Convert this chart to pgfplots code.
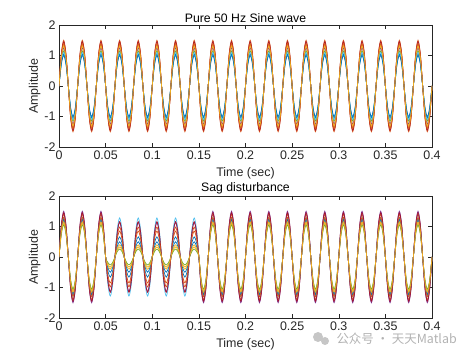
\documentclass[border=0pt]{standalone}
\usepackage{pgfplots}
\usepackage{pgfplotstable}
\pgfplotsset{compat=1.18}
\usepackage{fontspec}
\setmainfont{Liberation Sans}
\newfontfamily\cjk{Noto Sans CJK SC}
\definecolor{m1}{rgb}{0,0.447,0.741}
\definecolor{m2}{rgb}{0.85,0.325,0.098}
\definecolor{m3}{rgb}{0.929,0.694,0.125}
\definecolor{m4}{rgb}{0.494,0.184,0.556}
\definecolor{m5}{rgb}{0.466,0.674,0.188}
\definecolor{m6}{rgb}{0.301,0.745,0.933}
\definecolor{m7}{rgb}{0.635,0.078,0.184}
\definecolor{axgray}{rgb}{0.15,0.15,0.15}
\pgfplotscreateplotcyclelist{matlab}{
{m1,line width=0.7pt,smooth},{m2,line width=0.7pt,smooth},{m3,line width=0.7pt,smooth},{m4,line width=0.7pt,smooth},{m5,line width=0.7pt,smooth},{m6,line width=0.7pt,smooth},{m7,line width=0.7pt,smooth}}
\pgfplotstableread{
t a1 a2 a3 a4 a5 a6 a7 a8 a9 a10 b1 b2 b3 b4 b5 b6 b7 b8 b9 b10
0 0 0 0 0 0 0 0 0 0 0 0 0 0 0 0 0 0 0 0 0
0.0025 0.74 1.06 0.95 0.88 0.81 0.78 1.03 0.71 0.99 0.92 0.85 0.99 0.78 1.06 0.74 0.92 1.03 0.88 0.92 0.81
0.005 1.05 1.5 1.35 1.25 1.15 1.1 1.45 1 1.4 1.3 1.2 1.4 1.1 1.5 1.05 1.3 1.45 1.25 1.3 1.15
0.0075 0.74 1.06 0.95 0.88 0.81 0.78 1.03 0.71 0.99 0.92 0.85 0.99 0.78 1.06 0.74 0.92 1.03 0.88 0.92 0.81
0.01 0 0 0 0 0 0 0 0 0 0 0 0 0 0 0 0 0 0 0 0
0.0125 -0.74 -1.06 -0.95 -0.88 -0.81 -0.78 -1.03 -0.71 -0.99 -0.92 -0.85 -0.99 -0.78 -1.06 -0.74 -0.92 -1.03 -0.88 -0.92 -0.81
0.015 -1.05 -1.5 -1.35 -1.25 -1.15 -1.1 -1.45 -1 -1.4 -1.3 -1.2 -1.4 -1.1 -1.5 -1.05 -1.3 -1.45 -1.25 -1.3 -1.15
0.0175 -0.74 -1.06 -0.95 -0.88 -0.81 -0.78 -1.03 -0.71 -0.99 -0.92 -0.85 -0.99 -0.78 -1.06 -0.74 -0.92 -1.03 -0.88 -0.92 -0.81
0.02 0 0 0 0 0 0 0 0 0 0 0 0 0 0 0 0 0 0 0 0
0.0225 0.74 1.06 0.95 0.88 0.81 0.78 1.03 0.71 0.99 0.92 0.85 0.99 0.78 1.06 0.74 0.92 1.03 0.88 0.92 0.81
0.025 1.05 1.5 1.35 1.25 1.15 1.1 1.45 1 1.4 1.3 1.2 1.4 1.1 1.5 1.05 1.3 1.45 1.25 1.3 1.15
0.0275 0.74 1.06 0.95 0.88 0.81 0.78 1.03 0.71 0.99 0.92 0.85 0.99 0.78 1.06 0.74 0.92 1.03 0.88 0.92 0.81
0.03 0 0 0 0 0 0 0 0 0 0 0 0 0 0 0 0 0 0 0 0
0.0325 -0.74 -1.06 -0.95 -0.88 -0.81 -0.78 -1.03 -0.71 -0.99 -0.92 -0.85 -0.99 -0.78 -1.06 -0.74 -0.92 -1.03 -0.88 -0.92 -0.81
0.035 -1.05 -1.5 -1.35 -1.25 -1.15 -1.1 -1.45 -1 -1.4 -1.3 -1.2 -1.4 -1.1 -1.5 -1.05 -1.3 -1.45 -1.25 -1.3 -1.15
0.0375 -0.74 -1.06 -0.95 -0.88 -0.81 -0.78 -1.03 -0.71 -0.99 -0.92 -0.85 -0.99 -0.78 -1.06 -0.74 -0.92 -1.03 -0.88 -0.92 -0.81
0.04 0 0 0 0 0 0 0 0 0 0 0 0 0 0 0 0 0 0 0 0
0.0425 0.74 1.06 0.95 0.88 0.81 0.78 1.03 0.71 0.99 0.92 0.85 0.99 0.78 1.06 0.74 0.92 1.03 0.88 0.92 0.81
0.045 1.05 1.5 1.35 1.25 1.15 1.1 1.45 1 1.4 1.3 1.2 1.4 1.1 1.5 1.05 1.3 1.45 1.25 1.3 1.15
0.0475 0.74 1.06 0.95 0.88 0.81 0.78 1.03 0.71 0.99 0.92 0.85 0.99 0.78 1.06 0.74 0.92 1.03 0.88 0.92 0.81
0.05 0 0 0 0 0 0 0 0 0 0 0 0 0 0 0 0 0 0 0 0
0.0525 -0.74 -1.06 -0.95 -0.88 -0.81 -0.78 -1.03 -0.71 -0.99 -0.92 -0.47 -0.69 -0.23 -0.8 -0.18 -0.91 -0.82 -0.35 -0.6 -0.28
0.055 -1.05 -1.5 -1.35 -1.25 -1.15 -1.1 -1.45 -1 -1.4 -1.3 -0.66 -0.98 -0.33 -1.13 -0.26 -1.28 -1.16 -0.5 -0.85 -0.4
0.0575 -0.74 -1.06 -0.95 -0.88 -0.81 -0.78 -1.03 -0.71 -0.99 -0.92 -0.47 -0.69 -0.23 -0.8 -0.18 -0.91 -0.82 -0.35 -0.6 -0.28
0.06 0 0 0 0 0 0 0 0 0 0 0 0 0 0 0 0 0 0 0 0
0.0625 0.74 1.06 0.95 0.88 0.81 0.78 1.03 0.71 0.99 0.92 0.47 0.69 0.23 0.8 0.18 0.91 0.82 0.35 0.6 0.28
0.065 1.05 1.5 1.35 1.25 1.15 1.1 1.45 1 1.4 1.3 0.66 0.98 0.33 1.13 0.26 1.28 1.16 0.5 0.85 0.4
0.0675 0.74 1.06 0.95 0.88 0.81 0.78 1.03 0.71 0.99 0.92 0.47 0.69 0.23 0.8 0.18 0.91 0.82 0.35 0.6 0.28
0.07 0 0 0 0 0 0 0 0 0 0 0 0 0 0 0 0 0 0 0 0
0.0725 -0.74 -1.06 -0.95 -0.88 -0.81 -0.78 -1.03 -0.71 -0.99 -0.92 -0.47 -0.69 -0.23 -0.8 -0.18 -0.91 -0.82 -0.35 -0.6 -0.28
0.075 -1.05 -1.5 -1.35 -1.25 -1.15 -1.1 -1.45 -1 -1.4 -1.3 -0.66 -0.98 -0.33 -1.13 -0.26 -1.28 -1.16 -0.5 -0.85 -0.4
0.0775 -0.74 -1.06 -0.95 -0.88 -0.81 -0.78 -1.03 -0.71 -0.99 -0.92 -0.47 -0.69 -0.23 -0.8 -0.18 -0.91 -0.82 -0.35 -0.6 -0.28
0.08 0 0 0 0 0 0 0 0 0 0 0 0 0 0 0 0 0 0 0 0
0.0825 0.74 1.06 0.95 0.88 0.81 0.78 1.03 0.71 0.99 0.92 0.47 0.69 0.23 0.8 0.18 0.91 0.82 0.35 0.6 0.28
0.085 1.05 1.5 1.35 1.25 1.15 1.1 1.45 1 1.4 1.3 0.66 0.98 0.33 1.13 0.26 1.28 1.16 0.5 0.85 0.4
0.0875 0.74 1.06 0.95 0.88 0.81 0.78 1.03 0.71 0.99 0.92 0.47 0.69 0.23 0.8 0.18 0.91 0.82 0.35 0.6 0.28
0.09 0 0 0 0 0 0 0 0 0 0 0 0 0 0 0 0 0 0 0 0
0.0925 -0.74 -1.06 -0.95 -0.88 -0.81 -0.78 -1.03 -0.71 -0.99 -0.92 -0.47 -0.69 -0.23 -0.8 -0.18 -0.91 -0.82 -0.35 -0.6 -0.28
0.095 -1.05 -1.5 -1.35 -1.25 -1.15 -1.1 -1.45 -1 -1.4 -1.3 -0.66 -0.98 -0.33 -1.13 -0.26 -1.28 -1.16 -0.5 -0.85 -0.4
0.0975 -0.74 -1.06 -0.95 -0.88 -0.81 -0.78 -1.03 -0.71 -0.99 -0.92 -0.47 -0.69 -0.23 -0.8 -0.18 -0.91 -0.82 -0.35 -0.6 -0.28
0.1 0 0 0 0 0 0 0 0 0 0 0 0 0 0 0 0 0 0 0 0
0.1025 0.74 1.06 0.95 0.88 0.81 0.78 1.03 0.71 0.99 0.92 0.47 0.69 0.23 0.8 0.18 0.91 0.82 0.35 0.6 0.28
0.105 1.05 1.5 1.35 1.25 1.15 1.1 1.45 1 1.4 1.3 0.66 0.98 0.33 1.13 0.26 1.28 1.16 0.5 0.85 0.4
0.1075 0.74 1.06 0.95 0.88 0.81 0.78 1.03 0.71 0.99 0.92 0.47 0.69 0.23 0.8 0.18 0.91 0.82 0.35 0.6 0.28
0.11 0 0 0 0 0 0 0 0 0 0 0 0 0 0 0 0 0 0 0 0
0.1125 -0.74 -1.06 -0.95 -0.88 -0.81 -0.78 -1.03 -0.71 -0.99 -0.92 -0.47 -0.69 -0.23 -0.8 -0.18 -0.91 -0.82 -0.35 -0.6 -0.28
0.115 -1.05 -1.5 -1.35 -1.25 -1.15 -1.1 -1.45 -1 -1.4 -1.3 -0.66 -0.98 -0.33 -1.13 -0.26 -1.28 -1.16 -0.5 -0.85 -0.4
0.1175 -0.74 -1.06 -0.95 -0.88 -0.81 -0.78 -1.03 -0.71 -0.99 -0.92 -0.47 -0.69 -0.23 -0.8 -0.18 -0.91 -0.82 -0.35 -0.6 -0.28
0.12 0 0 0 0 0 0 0 0 0 0 0 0 0 0 0 0 0 0 0 0
0.1225 0.74 1.06 0.95 0.88 0.81 0.78 1.03 0.71 0.99 0.92 0.47 0.69 0.23 0.8 0.18 0.91 0.82 0.35 0.6 0.28
0.125 1.05 1.5 1.35 1.25 1.15 1.1 1.45 1 1.4 1.3 0.66 0.98 0.33 1.13 0.26 1.28 1.16 0.5 0.85 0.4
0.1275 0.74 1.06 0.95 0.88 0.81 0.78 1.03 0.71 0.99 0.92 0.47 0.69 0.23 0.8 0.18 0.91 0.82 0.35 0.6 0.28
0.13 0 0 0 0 0 0 0 0 0 0 0 0 0 0 0 0 0 0 0 0
0.1325 -0.74 -1.06 -0.95 -0.88 -0.81 -0.78 -1.03 -0.71 -0.99 -0.92 -0.47 -0.69 -0.23 -0.8 -0.18 -0.91 -0.82 -0.35 -0.6 -0.28
0.135 -1.05 -1.5 -1.35 -1.25 -1.15 -1.1 -1.45 -1 -1.4 -1.3 -0.66 -0.98 -0.33 -1.13 -0.26 -1.28 -1.16 -0.5 -0.85 -0.4
0.1375 -0.74 -1.06 -0.95 -0.88 -0.81 -0.78 -1.03 -0.71 -0.99 -0.92 -0.47 -0.69 -0.23 -0.8 -0.18 -0.91 -0.82 -0.35 -0.6 -0.28
0.14 0 0 0 0 0 0 0 0 0 0 0 0 0 0 0 0 0 0 0 0
0.1425 0.74 1.06 0.95 0.88 0.81 0.78 1.03 0.71 0.99 0.92 0.47 0.69 0.23 0.8 0.18 0.91 0.82 0.35 0.6 0.28
0.145 1.05 1.5 1.35 1.25 1.15 1.1 1.45 1 1.4 1.3 0.66 0.98 0.33 1.13 0.26 1.28 1.16 0.5 0.85 0.4
0.1475 0.74 1.06 0.95 0.88 0.81 0.78 1.03 0.71 0.99 0.92 0.47 0.69 0.23 0.8 0.18 0.91 0.82 0.35 0.6 0.28
0.15 0 0 0 0 0 0 0 0 0 0 0 0 0 0 0 0 0 0 0 0
0.1525 -0.74 -1.06 -0.95 -0.88 -0.81 -0.78 -1.03 -0.71 -0.99 -0.92 -0.85 -0.99 -0.78 -1.06 -0.74 -0.92 -1.03 -0.88 -0.92 -0.81
0.155 -1.05 -1.5 -1.35 -1.25 -1.15 -1.1 -1.45 -1 -1.4 -1.3 -1.2 -1.4 -1.1 -1.5 -1.05 -1.3 -1.45 -1.25 -1.3 -1.15
0.1575 -0.74 -1.06 -0.95 -0.88 -0.81 -0.78 -1.03 -0.71 -0.99 -0.92 -0.85 -0.99 -0.78 -1.06 -0.74 -0.92 -1.03 -0.88 -0.92 -0.81
0.16 0 0 0 0 0 0 0 0 0 0 0 0 0 0 0 0 0 0 0 0
0.1625 0.74 1.06 0.95 0.88 0.81 0.78 1.03 0.71 0.99 0.92 0.85 0.99 0.78 1.06 0.74 0.92 1.03 0.88 0.92 0.81
0.165 1.05 1.5 1.35 1.25 1.15 1.1 1.45 1 1.4 1.3 1.2 1.4 1.1 1.5 1.05 1.3 1.45 1.25 1.3 1.15
0.1675 0.74 1.06 0.95 0.88 0.81 0.78 1.03 0.71 0.99 0.92 0.85 0.99 0.78 1.06 0.74 0.92 1.03 0.88 0.92 0.81
0.17 0 0 0 0 0 0 0 0 0 0 0 0 0 0 0 0 0 0 0 0
0.1725 -0.74 -1.06 -0.95 -0.88 -0.81 -0.78 -1.03 -0.71 -0.99 -0.92 -0.85 -0.99 -0.78 -1.06 -0.74 -0.92 -1.03 -0.88 -0.92 -0.81
0.175 -1.05 -1.5 -1.35 -1.25 -1.15 -1.1 -1.45 -1 -1.4 -1.3 -1.2 -1.4 -1.1 -1.5 -1.05 -1.3 -1.45 -1.25 -1.3 -1.15
0.1775 -0.74 -1.06 -0.95 -0.88 -0.81 -0.78 -1.03 -0.71 -0.99 -0.92 -0.85 -0.99 -0.78 -1.06 -0.74 -0.92 -1.03 -0.88 -0.92 -0.81
0.18 0 0 0 0 0 0 0 0 0 0 0 0 0 0 0 0 0 0 0 0
0.1825 0.74 1.06 0.95 0.88 0.81 0.78 1.03 0.71 0.99 0.92 0.85 0.99 0.78 1.06 0.74 0.92 1.03 0.88 0.92 0.81
0.185 1.05 1.5 1.35 1.25 1.15 1.1 1.45 1 1.4 1.3 1.2 1.4 1.1 1.5 1.05 1.3 1.45 1.25 1.3 1.15
0.1875 0.74 1.06 0.95 0.88 0.81 0.78 1.03 0.71 0.99 0.92 0.85 0.99 0.78 1.06 0.74 0.92 1.03 0.88 0.92 0.81
0.19 0 0 0 0 0 0 0 0 0 0 0 0 0 0 0 0 0 0 0 0
0.1925 -0.74 -1.06 -0.95 -0.88 -0.81 -0.78 -1.03 -0.71 -0.99 -0.92 -0.85 -0.99 -0.78 -1.06 -0.74 -0.92 -1.03 -0.88 -0.92 -0.81
0.195 -1.05 -1.5 -1.35 -1.25 -1.15 -1.1 -1.45 -1 -1.4 -1.3 -1.2 -1.4 -1.1 -1.5 -1.05 -1.3 -1.45 -1.25 -1.3 -1.15
0.1975 -0.74 -1.06 -0.95 -0.88 -0.81 -0.78 -1.03 -0.71 -0.99 -0.92 -0.85 -0.99 -0.78 -1.06 -0.74 -0.92 -1.03 -0.88 -0.92 -0.81
0.2 0 0 0 0 0 0 0 0 0 0 0 0 0 0 0 0 0 0 0 0
0.2025 0.74 1.06 0.95 0.88 0.81 0.78 1.03 0.71 0.99 0.92 0.85 0.99 0.78 1.06 0.74 0.92 1.03 0.88 0.92 0.81
0.205 1.05 1.5 1.35 1.25 1.15 1.1 1.45 1 1.4 1.3 1.2 1.4 1.1 1.5 1.05 1.3 1.45 1.25 1.3 1.15
0.2075 0.74 1.06 0.95 0.88 0.81 0.78 1.03 0.71 0.99 0.92 0.85 0.99 0.78 1.06 0.74 0.92 1.03 0.88 0.92 0.81
0.21 0 0 0 0 0 0 0 0 0 0 0 0 0 0 0 0 0 0 0 0
0.2125 -0.74 -1.06 -0.95 -0.88 -0.81 -0.78 -1.03 -0.71 -0.99 -0.92 -0.85 -0.99 -0.78 -1.06 -0.74 -0.92 -1.03 -0.88 -0.92 -0.81
0.215 -1.05 -1.5 -1.35 -1.25 -1.15 -1.1 -1.45 -1 -1.4 -1.3 -1.2 -1.4 -1.1 -1.5 -1.05 -1.3 -1.45 -1.25 -1.3 -1.15
0.2175 -0.74 -1.06 -0.95 -0.88 -0.81 -0.78 -1.03 -0.71 -0.99 -0.92 -0.85 -0.99 -0.78 -1.06 -0.74 -0.92 -1.03 -0.88 -0.92 -0.81
0.22 0 0 0 0 0 0 0 0 0 0 0 0 0 0 0 0 0 0 0 0
0.2225 0.74 1.06 0.95 0.88 0.81 0.78 1.03 0.71 0.99 0.92 0.85 0.99 0.78 1.06 0.74 0.92 1.03 0.88 0.92 0.81
0.225 1.05 1.5 1.35 1.25 1.15 1.1 1.45 1 1.4 1.3 1.2 1.4 1.1 1.5 1.05 1.3 1.45 1.25 1.3 1.15
0.2275 0.74 1.06 0.95 0.88 0.81 0.78 1.03 0.71 0.99 0.92 0.85 0.99 0.78 1.06 0.74 0.92 1.03 0.88 0.92 0.81
0.23 0 0 0 0 0 0 0 0 0 0 0 0 0 0 0 0 0 0 0 0
0.2325 -0.74 -1.06 -0.95 -0.88 -0.81 -0.78 -1.03 -0.71 -0.99 -0.92 -0.85 -0.99 -0.78 -1.06 -0.74 -0.92 -1.03 -0.88 -0.92 -0.81
0.235 -1.05 -1.5 -1.35 -1.25 -1.15 -1.1 -1.45 -1 -1.4 -1.3 -1.2 -1.4 -1.1 -1.5 -1.05 -1.3 -1.45 -1.25 -1.3 -1.15
0.2375 -0.74 -1.06 -0.95 -0.88 -0.81 -0.78 -1.03 -0.71 -0.99 -0.92 -0.85 -0.99 -0.78 -1.06 -0.74 -0.92 -1.03 -0.88 -0.92 -0.81
0.24 0 0 0 0 0 0 0 0 0 0 0 0 0 0 0 0 0 0 0 0
0.2425 0.74 1.06 0.95 0.88 0.81 0.78 1.03 0.71 0.99 0.92 0.85 0.99 0.78 1.06 0.74 0.92 1.03 0.88 0.92 0.81
0.245 1.05 1.5 1.35 1.25 1.15 1.1 1.45 1 1.4 1.3 1.2 1.4 1.1 1.5 1.05 1.3 1.45 1.25 1.3 1.15
0.2475 0.74 1.06 0.95 0.88 0.81 0.78 1.03 0.71 0.99 0.92 0.85 0.99 0.78 1.06 0.74 0.92 1.03 0.88 0.92 0.81
0.25 0 0 0 0 0 0 0 0 0 0 0 0 0 0 0 0 0 0 0 0
0.2525 -0.74 -1.06 -0.95 -0.88 -0.81 -0.78 -1.03 -0.71 -0.99 -0.92 -0.85 -0.99 -0.78 -1.06 -0.74 -0.92 -1.03 -0.88 -0.92 -0.81
0.255 -1.05 -1.5 -1.35 -1.25 -1.15 -1.1 -1.45 -1 -1.4 -1.3 -1.2 -1.4 -1.1 -1.5 -1.05 -1.3 -1.45 -1.25 -1.3 -1.15
0.2575 -0.74 -1.06 -0.95 -0.88 -0.81 -0.78 -1.03 -0.71 -0.99 -0.92 -0.85 -0.99 -0.78 -1.06 -0.74 -0.92 -1.03 -0.88 -0.92 -0.81
0.26 0 0 0 0 0 0 0 0 0 0 0 0 0 0 0 0 0 0 0 0
0.2625 0.74 1.06 0.95 0.88 0.81 0.78 1.03 0.71 0.99 0.92 0.85 0.99 0.78 1.06 0.74 0.92 1.03 0.88 0.92 0.81
0.265 1.05 1.5 1.35 1.25 1.15 1.1 1.45 1 1.4 1.3 1.2 1.4 1.1 1.5 1.05 1.3 1.45 1.25 1.3 1.15
0.2675 0.74 1.06 0.95 0.88 0.81 0.78 1.03 0.71 0.99 0.92 0.85 0.99 0.78 1.06 0.74 0.92 1.03 0.88 0.92 0.81
0.27 0 0 0 0 0 0 0 0 0 0 0 0 0 0 0 0 0 0 0 0
0.2725 -0.74 -1.06 -0.95 -0.88 -0.81 -0.78 -1.03 -0.71 -0.99 -0.92 -0.85 -0.99 -0.78 -1.06 -0.74 -0.92 -1.03 -0.88 -0.92 -0.81
0.275 -1.05 -1.5 -1.35 -1.25 -1.15 -1.1 -1.45 -1 -1.4 -1.3 -1.2 -1.4 -1.1 -1.5 -1.05 -1.3 -1.45 -1.25 -1.3 -1.15
0.2775 -0.74 -1.06 -0.95 -0.88 -0.81 -0.78 -1.03 -0.71 -0.99 -0.92 -0.85 -0.99 -0.78 -1.06 -0.74 -0.92 -1.03 -0.88 -0.92 -0.81
0.28 0 0 0 0 0 0 0 0 0 0 0 0 0 0 0 0 0 0 0 0
0.2825 0.74 1.06 0.95 0.88 0.81 0.78 1.03 0.71 0.99 0.92 0.85 0.99 0.78 1.06 0.74 0.92 1.03 0.88 0.92 0.81
0.285 1.05 1.5 1.35 1.25 1.15 1.1 1.45 1 1.4 1.3 1.2 1.4 1.1 1.5 1.05 1.3 1.45 1.25 1.3 1.15
0.2875 0.74 1.06 0.95 0.88 0.81 0.78 1.03 0.71 0.99 0.92 0.85 0.99 0.78 1.06 0.74 0.92 1.03 0.88 0.92 0.81
0.29 0 0 0 0 0 0 0 0 0 0 0 0 0 0 0 0 0 0 0 0
0.2925 -0.74 -1.06 -0.95 -0.88 -0.81 -0.78 -1.03 -0.71 -0.99 -0.92 -0.85 -0.99 -0.78 -1.06 -0.74 -0.92 -1.03 -0.88 -0.92 -0.81
0.295 -1.05 -1.5 -1.35 -1.25 -1.15 -1.1 -1.45 -1 -1.4 -1.3 -1.2 -1.4 -1.1 -1.5 -1.05 -1.3 -1.45 -1.25 -1.3 -1.15
0.2975 -0.74 -1.06 -0.95 -0.88 -0.81 -0.78 -1.03 -0.71 -0.99 -0.92 -0.85 -0.99 -0.78 -1.06 -0.74 -0.92 -1.03 -0.88 -0.92 -0.81
0.3 0 0 0 0 0 0 0 0 0 0 0 0 0 0 0 0 0 0 0 0
0.3025 0.74 1.06 0.95 0.88 0.81 0.78 1.03 0.71 0.99 0.92 0.85 0.99 0.78 1.06 0.74 0.92 1.03 0.88 0.92 0.81
0.305 1.05 1.5 1.35 1.25 1.15 1.1 1.45 1 1.4 1.3 1.2 1.4 1.1 1.5 1.05 1.3 1.45 1.25 1.3 1.15
0.3075 0.74 1.06 0.95 0.88 0.81 0.78 1.03 0.71 0.99 0.92 0.85 0.99 0.78 1.06 0.74 0.92 1.03 0.88 0.92 0.81
0.31 0 0 0 0 0 0 0 0 0 0 0 0 0 0 0 0 0 0 0 0
0.3125 -0.74 -1.06 -0.95 -0.88 -0.81 -0.78 -1.03 -0.71 -0.99 -0.92 -0.85 -0.99 -0.78 -1.06 -0.74 -0.92 -1.03 -0.88 -0.92 -0.81
0.315 -1.05 -1.5 -1.35 -1.25 -1.15 -1.1 -1.45 -1 -1.4 -1.3 -1.2 -1.4 -1.1 -1.5 -1.05 -1.3 -1.45 -1.25 -1.3 -1.15
0.3175 -0.74 -1.06 -0.95 -0.88 -0.81 -0.78 -1.03 -0.71 -0.99 -0.92 -0.85 -0.99 -0.78 -1.06 -0.74 -0.92 -1.03 -0.88 -0.92 -0.81
0.32 0 0 0 0 0 0 0 0 0 0 0 0 0 0 0 0 0 0 0 0
0.3225 0.74 1.06 0.95 0.88 0.81 0.78 1.03 0.71 0.99 0.92 0.85 0.99 0.78 1.06 0.74 0.92 1.03 0.88 0.92 0.81
0.325 1.05 1.5 1.35 1.25 1.15 1.1 1.45 1 1.4 1.3 1.2 1.4 1.1 1.5 1.05 1.3 1.45 1.25 1.3 1.15
0.3275 0.74 1.06 0.95 0.88 0.81 0.78 1.03 0.71 0.99 0.92 0.85 0.99 0.78 1.06 0.74 0.92 1.03 0.88 0.92 0.81
0.33 0 0 0 0 0 0 0 0 0 0 0 0 0 0 0 0 0 0 0 0
0.3325 -0.74 -1.06 -0.95 -0.88 -0.81 -0.78 -1.03 -0.71 -0.99 -0.92 -0.85 -0.99 -0.78 -1.06 -0.74 -0.92 -1.03 -0.88 -0.92 -0.81
0.335 -1.05 -1.5 -1.35 -1.25 -1.15 -1.1 -1.45 -1 -1.4 -1.3 -1.2 -1.4 -1.1 -1.5 -1.05 -1.3 -1.45 -1.25 -1.3 -1.15
0.3375 -0.74 -1.06 -0.95 -0.88 -0.81 -0.78 -1.03 -0.71 -0.99 -0.92 -0.85 -0.99 -0.78 -1.06 -0.74 -0.92 -1.03 -0.88 -0.92 -0.81
0.34 0 0 0 0 0 0 0 0 0 0 0 0 0 0 0 0 0 0 0 0
0.3425 0.74 1.06 0.95 0.88 0.81 0.78 1.03 0.71 0.99 0.92 0.85 0.99 0.78 1.06 0.74 0.92 1.03 0.88 0.92 0.81
0.345 1.05 1.5 1.35 1.25 1.15 1.1 1.45 1 1.4 1.3 1.2 1.4 1.1 1.5 1.05 1.3 1.45 1.25 1.3 1.15
0.3475 0.74 1.06 0.95 0.88 0.81 0.78 1.03 0.71 0.99 0.92 0.85 0.99 0.78 1.06 0.74 0.92 1.03 0.88 0.92 0.81
0.35 0 0 0 0 0 0 0 0 0 0 0 0 0 0 0 0 0 0 0 0
0.3525 -0.74 -1.06 -0.95 -0.88 -0.81 -0.78 -1.03 -0.71 -0.99 -0.92 -0.85 -0.99 -0.78 -1.06 -0.74 -0.92 -1.03 -0.88 -0.92 -0.81
0.355 -1.05 -1.5 -1.35 -1.25 -1.15 -1.1 -1.45 -1 -1.4 -1.3 -1.2 -1.4 -1.1 -1.5 -1.05 -1.3 -1.45 -1.25 -1.3 -1.15
0.3575 -0.74 -1.06 -0.95 -0.88 -0.81 -0.78 -1.03 -0.71 -0.99 -0.92 -0.85 -0.99 -0.78 -1.06 -0.74 -0.92 -1.03 -0.88 -0.92 -0.81
0.36 0 0 0 0 0 0 0 0 0 0 0 0 0 0 0 0 0 0 0 0
0.3625 0.74 1.06 0.95 0.88 0.81 0.78 1.03 0.71 0.99 0.92 0.85 0.99 0.78 1.06 0.74 0.92 1.03 0.88 0.92 0.81
0.365 1.05 1.5 1.35 1.25 1.15 1.1 1.45 1 1.4 1.3 1.2 1.4 1.1 1.5 1.05 1.3 1.45 1.25 1.3 1.15
0.3675 0.74 1.06 0.95 0.88 0.81 0.78 1.03 0.71 0.99 0.92 0.85 0.99 0.78 1.06 0.74 0.92 1.03 0.88 0.92 0.81
0.37 0 0 0 0 0 0 0 0 0 0 0 0 0 0 0 0 0 0 0 0
0.3725 -0.74 -1.06 -0.95 -0.88 -0.81 -0.78 -1.03 -0.71 -0.99 -0.92 -0.85 -0.99 -0.78 -1.06 -0.74 -0.92 -1.03 -0.88 -0.92 -0.81
0.375 -1.05 -1.5 -1.35 -1.25 -1.15 -1.1 -1.45 -1 -1.4 -1.3 -1.2 -1.4 -1.1 -1.5 -1.05 -1.3 -1.45 -1.25 -1.3 -1.15
0.3775 -0.74 -1.06 -0.95 -0.88 -0.81 -0.78 -1.03 -0.71 -0.99 -0.92 -0.85 -0.99 -0.78 -1.06 -0.74 -0.92 -1.03 -0.88 -0.92 -0.81
0.38 0 0 0 0 0 0 0 0 0 0 0 0 0 0 0 0 0 0 0 0
0.3825 0.74 1.06 0.95 0.88 0.81 0.78 1.03 0.71 0.99 0.92 0.85 0.99 0.78 1.06 0.74 0.92 1.03 0.88 0.92 0.81
0.385 1.05 1.5 1.35 1.25 1.15 1.1 1.45 1 1.4 1.3 1.2 1.4 1.1 1.5 1.05 1.3 1.45 1.25 1.3 1.15
0.3875 0.74 1.06 0.95 0.88 0.81 0.78 1.03 0.71 0.99 0.92 0.85 0.99 0.78 1.06 0.74 0.92 1.03 0.88 0.92 0.81
0.39 0 0 0 0 0 0 0 0 0 0 0 0 0 0 0 0 0 0 0 0
0.3925 -0.74 -1.06 -0.95 -0.88 -0.81 -0.78 -1.03 -0.71 -0.99 -0.92 -0.85 -0.99 -0.78 -1.06 -0.74 -0.92 -1.03 -0.88 -0.92 -0.81
0.395 -1.05 -1.5 -1.35 -1.25 -1.15 -1.1 -1.45 -1 -1.4 -1.3 -1.2 -1.4 -1.1 -1.5 -1.05 -1.3 -1.45 -1.25 -1.3 -1.15
0.3975 -0.74 -1.06 -0.95 -0.88 -0.81 -0.78 -1.03 -0.71 -0.99 -0.92 -0.85 -0.99 -0.78 -1.06 -0.74 -0.92 -1.03 -0.88 -0.92 -0.81
0.4 0 0 0 0 0 0 0 0 0 0 0 0 0 0 0 0 0 0 0 0
}\sigdata
\pgfplotsset{mlab/.style={
  scale only axis, width=373bp, height=122bp,
  xmin=0, xmax=0.4, ymin=-2, ymax=2,
  xtick={0,0.05,0.1,0.15,0.2,0.25,0.3,0.35,0.4},
  ytick={-2,-1,0,1,2},
  tick align=inside, major tick length=4bp,
  axis line style={draw=axgray, line width=0.5pt},
  every tick/.style={axgray, line width=0.5pt},
  /pgf/number format/assume math mode=true,
  /pgf/number format/fixed, /pgf/number format/precision=2,
  tick label style={font=\fontsize{12.5}{14}\selectfont, text=axgray},
  label style={font=\fontsize{12.5}{14}\selectfont, text=axgray},
  title style={font=\fontsize{12.3}{14}\selectfont, text=black, yshift=-7.5bp},
  xlabel={Time (sec)}, ylabel={Amplitude},
  ylabel style={yshift=-3bp},
  xlabel style={yshift=-1.5bp},
  cycle list name=matlab,
}}
\begin{document}
\begin{tikzpicture}
\useasboundingbox (0,0) rectangle (474bp,356bp);
\begin{axis}[mlab, at={(59bp,209bp)}, anchor=south west, title={Pure 50 Hz Sine wave}]
\pgfplotsinvokeforeach{1,...,10}{\addplot table[x=t, y=a#1]{\sigdata};}
\end{axis}
\begin{axis}[mlab, at={(59bp,38bp)}, anchor=south west, title={Sag disturbance}]
\pgfplotsinvokeforeach{1,...,10}{\addplot table[x=t, y=b#1]{\sigdata};}
\end{axis}
\fill[gray!45] (318bp,19bp) circle (5bp);
\fill[gray!45] (325bp,15bp) circle (4bp);
\node[anchor=west, text=gray!60, font=\cjk\fontsize{12.5}{14}\selectfont] at (333bp,17bp) {公众号 · 天天Matlab};
\end{tikzpicture}
\end{document}
